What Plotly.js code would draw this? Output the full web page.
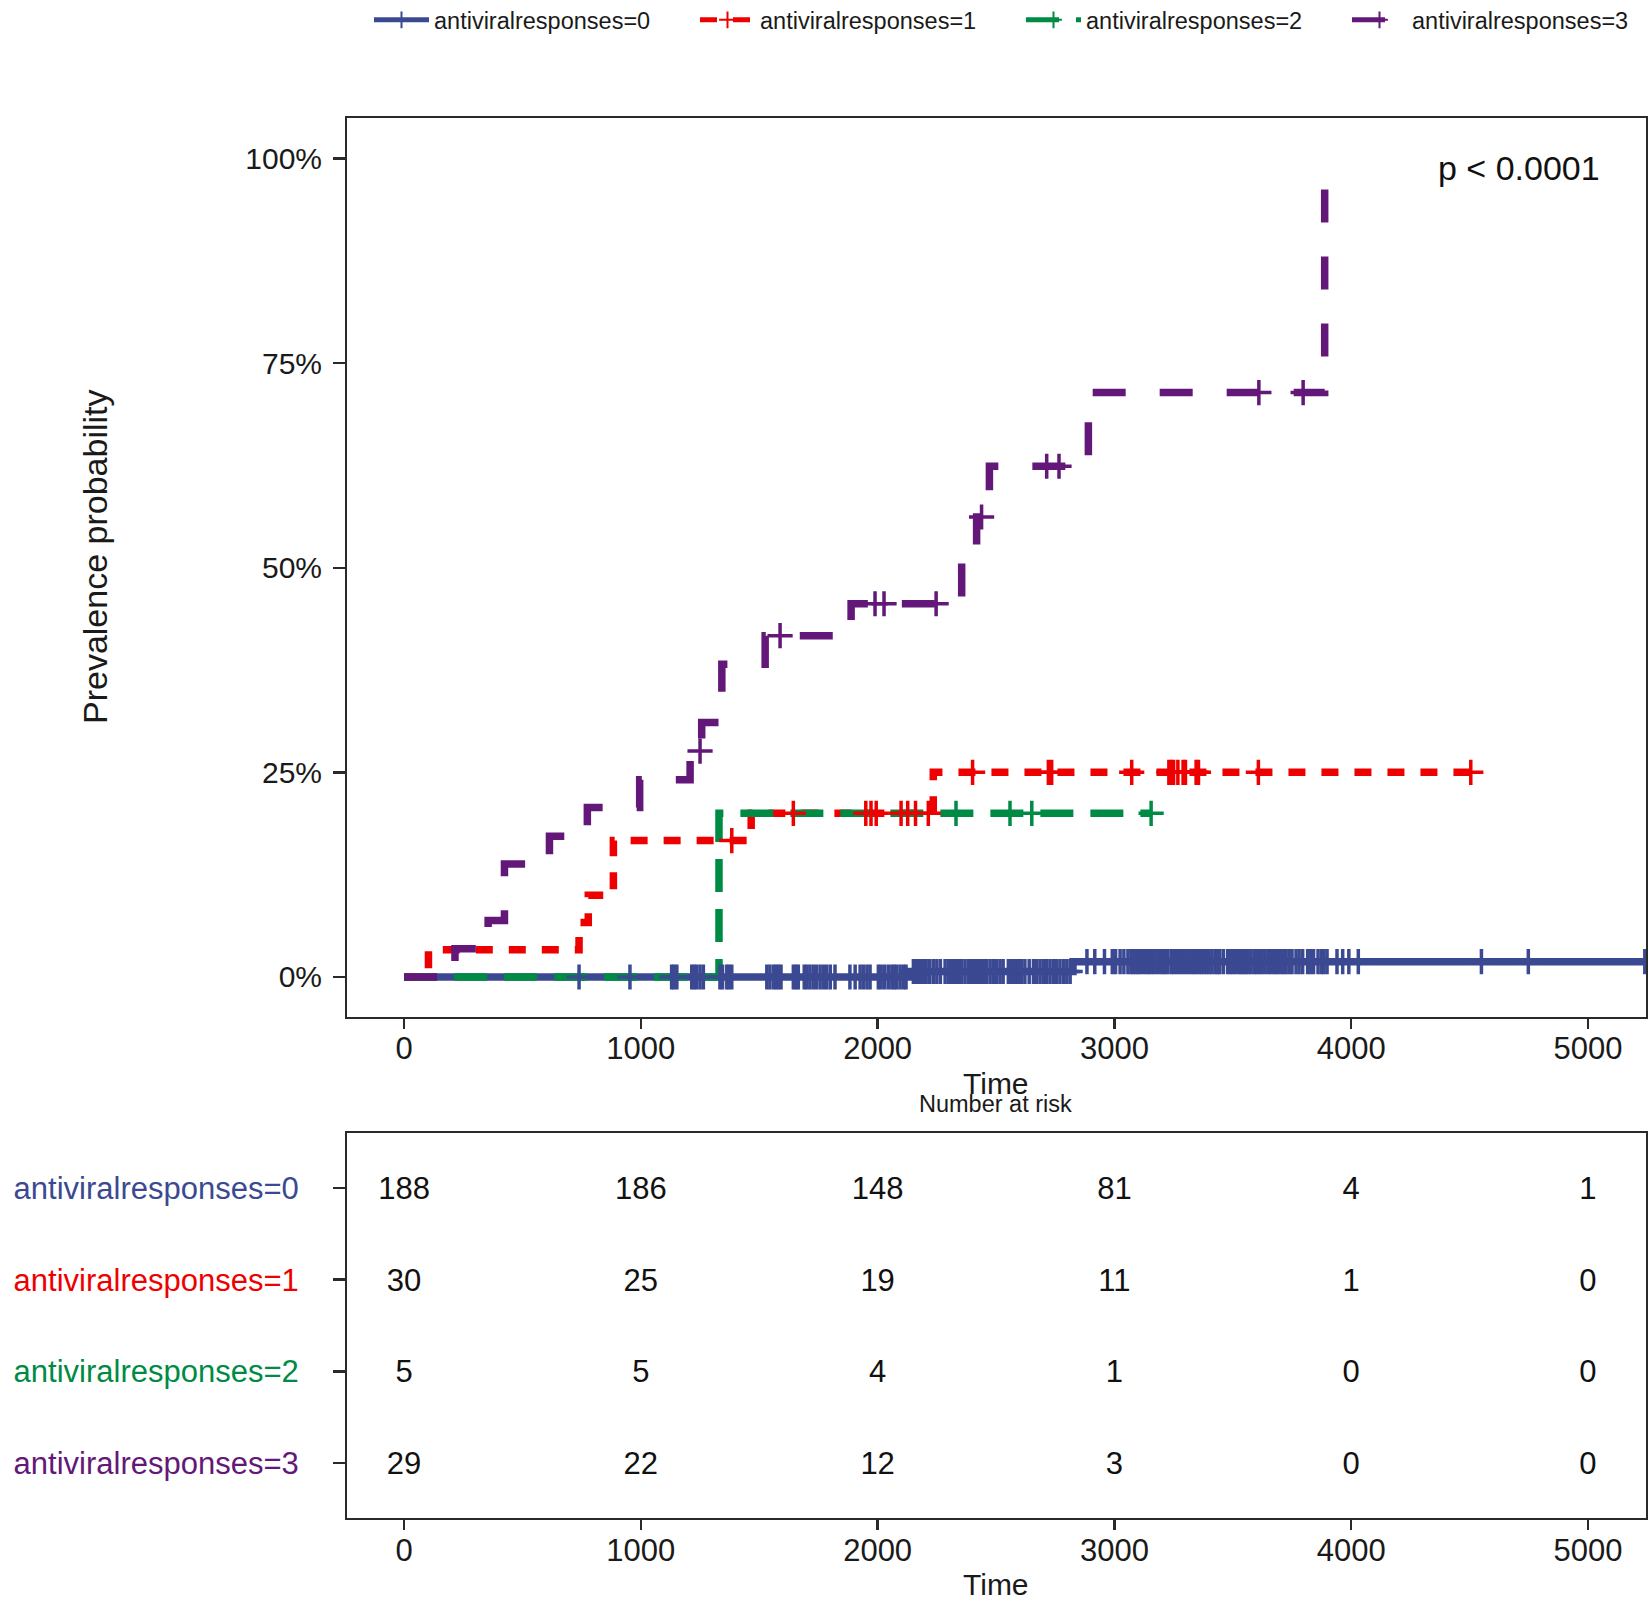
<!DOCTYPE html>
<html>
<head>
<meta charset="utf-8">
<script src="https://cdn.plot.ly/plotly-3.0.1.min.js"></script>
<style>
  html, body { margin: 0; padding: 0; background: #ffffff; }
  #chart { width: 1652px; height: 1600px; }
</style>
</head>
<body>
<div id="chart"></div>
<script>
// ---------------- DATA ----------------
const groupNames = ["antiviralresponses=0", "antiviralresponses=1", "antiviralresponses=2", "antiviralresponses=3"];
const groupColors = ["#3B4992", "#EE0000", "#008B45", "#631879"];

// step (event) times and cumulative prevalence after each step
const g0EventTimes  = [0, 2130, 2825];
const g0EventValues = [0, 0.0067, 0.0187];
const g0CensorTimes = [739, 954,
  1130, 1140, 1152, 1215, 1225, 1236, 1250, 1264, 1334, 1345, 1363, 1372, 1384,
  1532, 1545, 1560, 1570, 1581, 1592, 1644, 1655, 1665, 1690, 1701, 1714, 1728,
  1742, 1757, 1771, 1785, 1800, 1820, 1883, 1905, 1926, 1940, 1955, 1968,
  2003, 2015, 2030, 2045, 2060, 2070, 2081, 2095, 2109, 2120, 2151, 2160, 2172,
  2182, 2193, 2205, 2220, 2235, 2250, 2265, 2285, 2299, 2310, 2320, 2330, 2341,
  2355, 2369, 2383, 2397, 2408, 2418, 2430, 2440, 2450, 2461, 2475, 2489, 2503,
  2517, 2530, 2552, 2563, 2573, 2584, 2594, 2608, 2622, 2640, 2658, 2672, 2686,
  2700, 2714, 2728, 2742, 2756, 2770, 2785, 2799, 2813, 2884, 2917, 2958, 2991,
  3005, 3024, 3040, 3057, 3070, 3080, 3090, 3100, 3110, 3123, 3135, 3145, 3156,
  3168, 3181, 3195, 3205, 3214, 3225, 3239, 3250, 3263, 3275, 3288, 3300, 3313,
  3325, 3335, 3346, 3358, 3368, 3379, 3390, 3400, 3412, 3425, 3435, 3445, 3460,
  3478, 3490, 3500, 3511, 3525, 3535, 3544, 3555, 3565, 3577, 3590, 3600, 3610,
  3622, 3635, 3648, 3660, 3672, 3682, 3692, 3705, 3715, 3725, 3738, 3750, 3767,
  3780, 3795, 3816, 3828, 3841, 3860, 3874, 3885, 3898, 3940, 3964, 3990,
  4030, 4550, 4748, 5240];

const g1EventTimes  = [0, 103, 739, 778, 884, 1466, 2235];
const g1EventValues = [0, 0.0333, 0.0667, 0.1, 0.1667, 0.2, 0.25];
const g1CensorTimes = [1384, 1644, 1950, 1972, 1994, 2099, 2127, 2160, 2214,
  2401, 2721, 2735, 3073, 3230, 3240, 3250, 3268, 3290, 3300, 3345, 3355, 3608, 4505];

const g2EventTimes  = [0, 1330];
const g2EventValues = [0, 0.2];
const g2CensorTimes = [2331, 2559, 2651, 3155];

const g3EventTimes  = [0, 215, 355, 424, 614, 774, 995, 1208, 1257, 1342, 1525, 1888, 2355, 2418, 2472, 2890, 3888];
const g3EventValues = [0, 0.0345, 0.069, 0.138, 0.172, 0.207, 0.241, 0.276, 0.311, 0.382, 0.417, 0.456, 0.51, 0.562, 0.624, 0.714, 1.0];
const g3CensorTimes = [1250, 1588, 1989, 2027, 2247, 2439, 2714, 2766, 3610, 3797];

// risk table
const riskTimes = [0, 1000, 2000, 3000, 4000, 5000];
const riskG0 = [188, 186, 148, 81, 4, 1];
const riskG1 = [30, 25, 19, 11, 1, 0];
const riskG2 = [5, 5, 4, 1, 0, 0];
const riskG3 = [29, 22, 12, 3, 0, 0];

// axis ticks
const xTickVals = [0, 1000, 2000, 3000, 4000, 5000];
const yTickVals = [0, 0.25, 0.5, 0.75, 1];
const yTickText = ["0%", "25%", "50%", "75%", "100%"];
const pValueText = "p < 0.0001";

// ---------------- BUILD ----------------
const W = 1652, H = 1600;
const FONT = "Liberation Sans, Arial, sans-serif";
const dashes = ["solid", "17px,16px", "33px,17px", "33px,34px"];

const groups = [
  {ev: g0EventTimes, val: g0EventValues, cen: g0CensorTimes, risk: riskG0},
  {ev: g1EventTimes, val: g1EventValues, cen: g1CensorTimes, risk: riskG1},
  {ev: g2EventTimes, val: g2EventValues, cen: g2CensorTimes, risk: riskG2},
  {ev: g3EventTimes, val: g3EventValues, cen: g3CensorTimes, risk: riskG3}
];

function stepAt(g, t) {
  let v = 0;
  for (let i = 0; i < g.ev.length; i++) { if (g.ev[i] <= t) v = g.val[i]; }
  return v;
}

const traces = [];
// lines (drawn first, in group order)
groups.forEach((g, i) => {
  const xs = g.ev.slice();
  const ys = g.val.slice();
  const lastCen = Math.max.apply(null, g.cen);
  if (lastCen > xs[xs.length - 1]) { xs.push(lastCen); ys.push(ys[ys.length - 1]); }
  traces.push({
    type: "scatter", mode: "lines+markers", x: xs, y: ys,
    name: groupNames[i], legendgroup: "g" + i,
    line: {color: groupColors[i], width: 7.5, dash: dashes[i], shape: "hv"},
    marker: {symbol: "cross-thin", size: 0.001, color: groupColors[i], line: {color: groupColors[i], width: 3.5}},
    xaxis: "x", yaxis: "y", hoverinfo: "skip", cliponaxis: true
  });
});
// censor marks on top
groups.forEach((g, i) => {
  traces.push({
    type: "scatter", mode: "markers", x: g.cen, y: g.cen.map(t => stepAt(g, t)),
    showlegend: false, legendgroup: "g" + i,
    marker: {symbol: "cross-thin", size: 18, color: groupColors[i], line: {color: groupColors[i], width: 3.5}},
    xaxis: "x", yaxis: "y", hoverinfo: "skip", cliponaxis: true
  });
});
// risk table (small downward nudge so digits sit centred on the row ticks)
const rowNudge = 0.035;
groups.forEach((g, i) => {
  traces.push({
    type: "scatter", mode: "text", x: riskTimes, y: riskTimes.map(() => 4 - i - rowNudge),
    text: g.risk.map(String), textposition: "middle center",
    textfont: {family: FONT, size: 31, color: "#111111"},
    showlegend: false, xaxis: "x2", yaxis: "y2", hoverinfo: "skip", cliponaxis: false
  });
});

const px = v => v / W;
const py = v => 1 - v / H;

const axisCommon = {
  showgrid: false, zeroline: false, showline: true, mirror: true,
  linecolor: "#2a2a2a", linewidth: 2,
  ticks: "outside", ticklen: 10, tickwidth: 2.5, tickcolor: "#2a2a2a",
  fixedrange: true, automargin: false
};

const layout = {
  width: W, height: H,
  margin: {l: 0, r: 0, t: 0, b: 0, pad: 0, autoexpand: false},
  paper_bgcolor: "#ffffff", plot_bgcolor: "#ffffff",
  font: {family: FONT, color: "#1a1a1a"},
  showlegend: true,
  legend: {
    orientation: "h", x: px(369), xanchor: "left", y: py(20), yanchor: "middle",
    font: {family: FONT, size: 23.5, color: "#1a1a1a"},
    itemsizing: "constant", itemwidth: 55, entrywidth: 256, entrywidthmode: "pixels",
    bgcolor: "rgba(0,0,0,0)", traceorder: "normal"
  },
  xaxis: Object.assign({}, axisCommon, {
    domain: [px(347), px(1646)], range: [-241, 5245], anchor: "y",
    tickvals: xTickVals, ticktext: xTickVals.map(String), ticklabelstandoff: -7,
    tickfont: {family: FONT, size: 31, color: "#1a1a1a"}
  }),
  yaxis: Object.assign({}, axisCommon, {
    domain: [py(1017), py(118)], range: [-0.0489, 1.0495], anchor: "x",
    tickvals: yTickVals, ticktext: yTickText, ticklen: 12, ticklabelstandoff: 5,
    tickfont: {family: FONT, size: 30, color: "#1a1a1a"}
  }),
  xaxis2: Object.assign({}, axisCommon, {
    domain: [px(347), px(1646)], range: [-241, 5245], anchor: "y2",
    tickvals: xTickVals, ticktext: xTickVals.map(String), ticklabelstandoff: -6,
    tickfont: {family: FONT, size: 31, color: "#1a1a1a"}
  }),
  yaxis2: Object.assign({}, axisCommon, {
    domain: [py(1518), py(1133)], range: [0.4, 4.6], anchor: "x2",
    tickvals: [4, 3, 2, 1], ticklen: 12,
    ticktext: groupNames.map((n, i) => '<span style="color:' + groupColors[i] + '">' + n + '</span>'),
    ticklabelstandoff: 28,
    tickfont: {family: FONT, size: 31}
  }),
  annotations: [
    {text: pValueText, xref: "paper", yref: "paper", x: px(1436), y: py(168), xanchor: "left", yanchor: "middle",
     showarrow: false, font: {family: FONT, size: 34, color: "#111111"}},
    {text: "Prevalence probability", xref: "paper", yref: "paper", x: px(95), y: py(557), xanchor: "center", yanchor: "middle",
     textangle: -90, showarrow: false, font: {family: FONT, size: 34, color: "#1a1a1a"}},
    {text: "Time", xref: "paper", yref: "paper", x: px(996), y: py(1083), xanchor: "center", yanchor: "middle",
     showarrow: false, font: {family: FONT, size: 30, color: "#1a1a1a"}},
    {text: "Number at risk", xref: "paper", yref: "paper", x: px(996), y: py(1104), xanchor: "center", yanchor: "middle",
     showarrow: false, font: {family: FONT, size: 23.5, color: "#1a1a1a"}},
    {text: "Time", xref: "paper", yref: "paper", x: px(996), y: py(1584), xanchor: "center", yanchor: "middle",
     showarrow: false, font: {family: FONT, size: 30, color: "#1a1a1a"}}
  ]
};

Plotly.newPlot("chart", traces, layout, {staticPlot: true, displayModeBar: false});
</script>
</body>
</html>
